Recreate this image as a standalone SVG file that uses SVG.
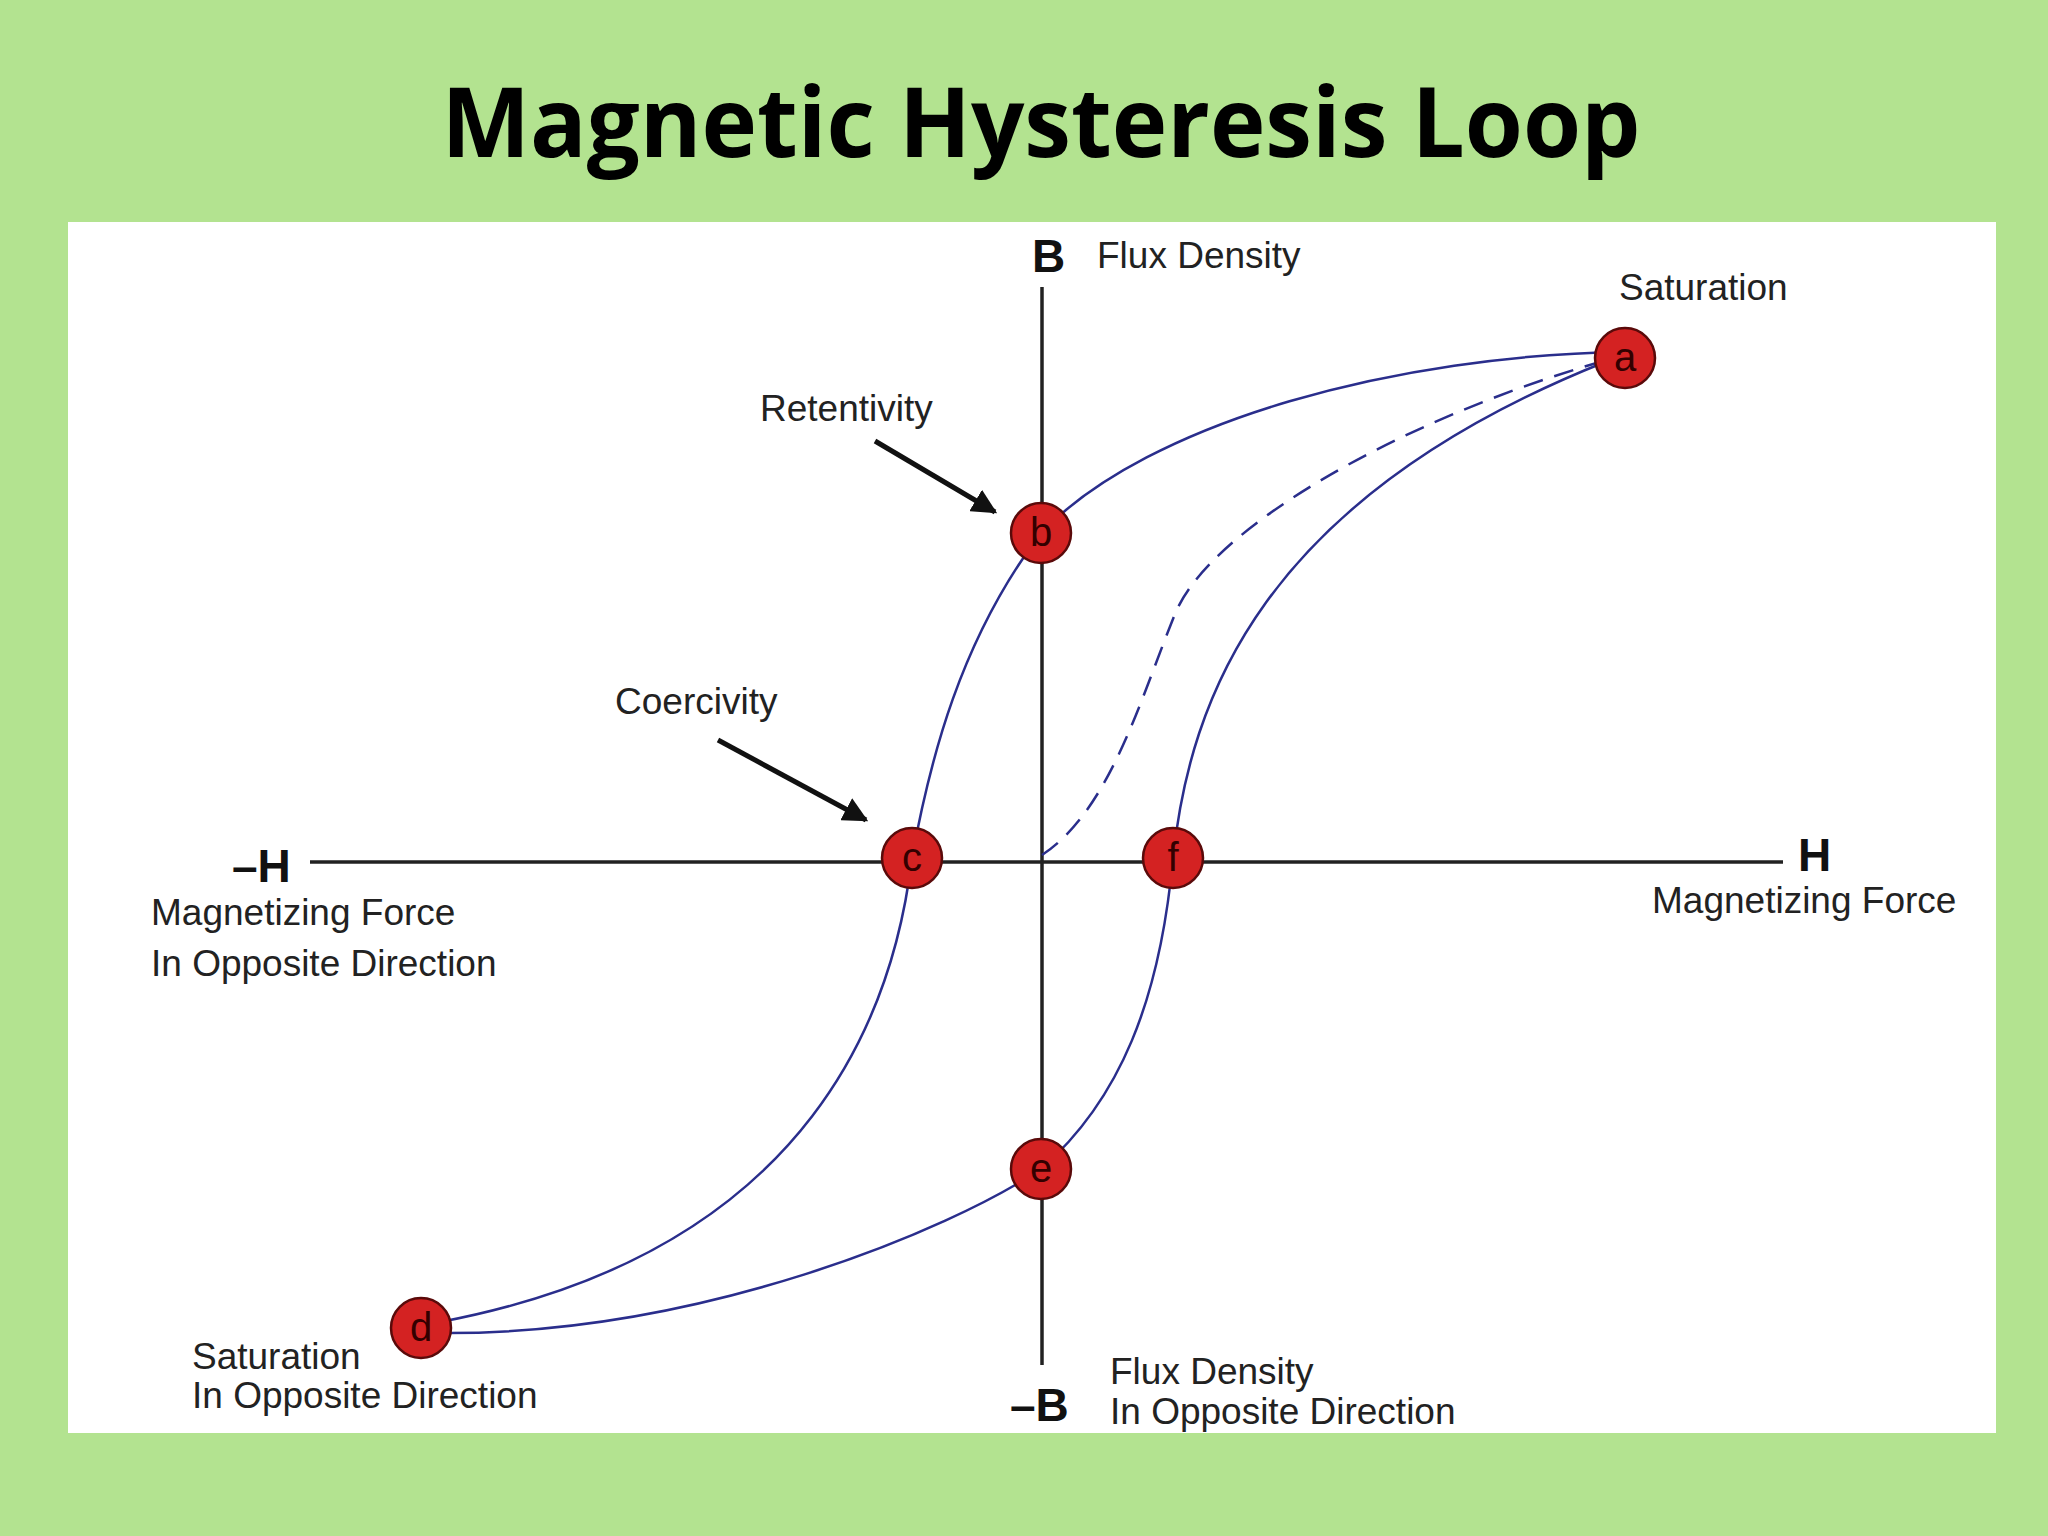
<svg xmlns="http://www.w3.org/2000/svg" width="2048" height="1536" viewBox="0 0 2048 1536">
<style>
.lbl{font-family:"Liberation Sans",Arial,sans-serif;font-size:37px;fill:#222}
.ax{font-family:"Liberation Sans",Arial,sans-serif;font-size:46px;font-weight:bold;fill:#111}
.curve{fill:none;stroke:#2a2e8c;stroke-width:2.5}
.axis{stroke:#222;stroke-width:3.5}
.pt circle{fill:#d42222;stroke:#5a0a0a;stroke-width:2.5}
.pt text{font-family:"Liberation Sans",Arial,sans-serif;font-size:40px;fill:#300;text-anchor:middle}
</style>
<defs>
<marker id="ah" viewBox="0 0 10 10" refX="9" refY="5" markerWidth="5" markerHeight="5" orient="auto"><path d="M0,0 L10,5 L0,10 z" fill="#111"/></marker>
</defs>
<rect width="2048" height="1536" fill="#b3e390"/>
<text x="1041" y="157" font-family="'Open Sans','Liberation Sans',sans-serif" font-weight="bold" font-size="96" text-anchor="middle" textLength="1199" lengthAdjust="spacingAndGlyphs" fill="#000">Magnetic Hysteresis Loop</text>
<rect x="68" y="222" width="1928" height="1211" fill="#fff"/>
<g id="axes">
<line class="axis" x1="1042" y1="287" x2="1042" y2="1365"/>
<line class="axis" x1="310" y1="862" x2="1783" y2="862"/>
</g>
<g id="connectors">
<path class="curve" d="M1625,352 C1400,355 1150,420 1041,533"/>
<path class="curve" d="M1041,533 C960,640 930,760 912,858"/>
<path class="curve" d="M912,858 C895,1000 820,1250 440,1322"/>
<path class="curve" d="M440,1333 C700,1335 950,1230 1041,1169"/>
<path class="curve" d="M1041,1169 C1120,1100 1160,1000 1173,858"/>
<path class="curve" d="M1173,858 C1190,700 1260,500 1605,362"/>
<path class="curve" stroke-dasharray="20,12" d="M1042,855 C1110,810 1140,700 1175,614 S1400,420 1600,362"/>
<line x1="875" y1="441" x2="995" y2="512" stroke="#111" stroke-width="5" marker-end="url(#ah)"/>
<line x1="718" y1="740" x2="866" y2="820" stroke="#111" stroke-width="5" marker-end="url(#ah)"/>
</g>
<g id="a" class="pt"><circle cx="1625" cy="358" r="30"/><text x="1625" y="371">a</text></g>
<g id="b" class="pt"><circle cx="1041" cy="533" r="30"/><text x="1041" y="546">b</text></g>
<g id="c" class="pt"><circle cx="912" cy="858" r="30"/><text x="912" y="871">c</text></g>
<g id="f" class="pt"><circle cx="1173" cy="858" r="30"/><text x="1173" y="871">f</text></g>
<g id="e" class="pt"><circle cx="1041" cy="1169" r="30"/><text x="1041" y="1182">e</text></g>
<g id="d" class="pt"><circle cx="421" cy="1328" r="30"/><text x="421" y="1341">d</text></g>
<g id="labels">
<text class="ax" x="1032" y="272">B</text>
<text class="lbl" x="1097" y="268">Flux Density</text>
<text class="lbl" x="1619" y="300">Saturation</text>
<text class="lbl" x="760" y="421">Retentivity</text>
<text class="lbl" x="615" y="714">Coercivity</text>
<text class="ax" x="232" y="882">–H</text>
<text class="lbl" x="151" y="925">Magnetizing Force</text>
<text class="lbl" x="151" y="976">In Opposite Direction</text>
<text class="ax" x="1798" y="871">H</text>
<text class="lbl" x="1652" y="913">Magnetizing Force</text>
<text class="lbl" x="192" y="1369">Saturation</text>
<text class="lbl" x="192" y="1408">In Opposite Direction</text>
<text class="ax" x="1010" y="1421">–B</text>
<text class="lbl" x="1110" y="1384">Flux Density</text>
<text class="lbl" x="1110" y="1424">In Opposite Direction</text>
</g>
</svg>
